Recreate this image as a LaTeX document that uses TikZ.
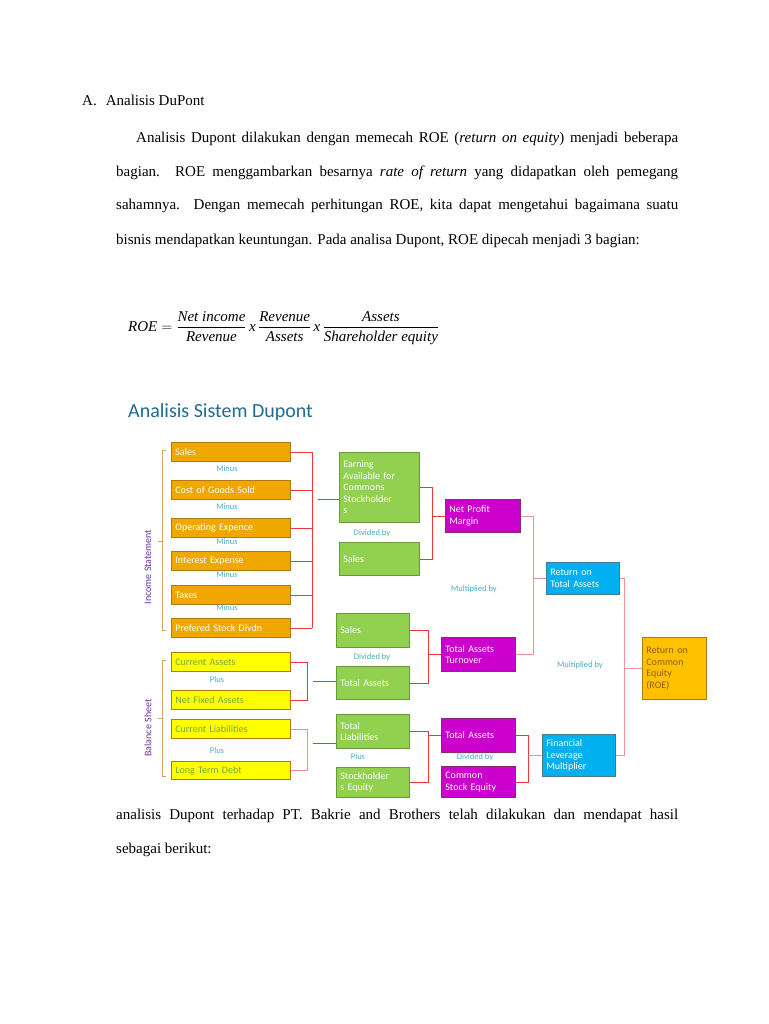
\documentclass[tikz,border=0pt]{standalone}
\usepackage{amsmath}
\usepackage{fontspec}
\setmainfont{Liberation Serif}
\newfontfamily\calfont{Carlito}
\definecolor{org}{HTML}{F0A800}
\definecolor{orgb}{HTML}{B07A10}
\definecolor{grn}{HTML}{92D050}
\definecolor{grnb}{HTML}{6A9A38}
\definecolor{mag}{HTML}{CC00CC}
\definecolor{magb}{HTML}{8A2A6A}
\definecolor{blu}{HTML}{00B0F0}
\definecolor{blub}{HTML}{4A7A8A}
\definecolor{yel}{HTML}{FFFF00}
\definecolor{roe}{HTML}{FFC000}
\definecolor{lbl}{HTML}{4BACC6}
\definecolor{pur}{HTML}{7030A0}
\definecolor{brk}{HTML}{D0A860}
\definecolor{ttl}{HTML}{1F6C90}
\definecolor{rln}{HTML}{E8383C}
\tikzset{
 bx/.style={draw=orgb,line width=0.8pt,inner xsep=4pt,inner ysep=1pt,align=left,font=\calfont\fontsize{10}{11.5}\selectfont,text=white,anchor=north west},
 ob/.style={bx,fill=org},
 gb/.style={bx,fill=grn,draw=grnb},
 mb/.style={bx,fill=mag,draw=magb},
 bb/.style={bx,fill=blu,draw=blub},
 yb/.style={bx,fill=yel,draw=orgb,text=grn!80!black},
 rb/.style={bx,fill=roe,draw=orgb,text=orgb!80!black},
 lab/.style={font=\calfont\fontsize{8.5}{9}\selectfont,text=lbl},
 rl/.style={draw=rln,line width=0.8pt},
 pl/.style={draw=rln!55,line width=0.6pt},
 br/.style={draw=brk,line width=0.8pt},
 body/.style={anchor=base west,inner sep=0pt,font=\fontsize{15}{18}\selectfont},
}
\newcommand\bxx[7]{\pgfmathsetmacro\ww{#4-#2}\pgfmathsetmacro\hh{#5-#3}\pgfmathsetmacro\tw{#4-#2-8}%
 \node[#6,minimum width=\ww pt,minimum height=\hh pt,text width=\tw pt] (#1) at (#2,#3) {#7};}
\begin{document}
\begin{tikzpicture}[x=1pt,y=-1pt]
\useasboundingbox (0,0) rectangle (768,1024);
\fill[white] (0,0) rectangle (768,1024);
% text
\node[body] (h) at (82,106) {A.\hspace{0.6em}Analisis DuPont};
\node[body] (p1) at (136,143) {\makebox[542pt][s]{Analisis Dupont dilakukan dengan memecah ROE (\textit{return on equity}) menjadi beberapa}};
\node[body] (p2) at (116,177) {\makebox[562pt][s]{bagian. ROE menggambarkan besarnya \textit{rate of return} yang didapatkan oleh pemegang}};
\node[body] (p3) at (116,210) {\makebox[562pt][s]{sahamnya. Dengan memecah perhitungan ROE, kita dapat mengetahui bagaimana suatu}};
\node[body] (p4) at (116,244) {bisnis mendapatkan keuntungan. Pada analisa Dupont, ROE dipecah menjadi 3 bagian:};
\node[anchor=west,inner sep=0pt,font=\fontsize{15}{18}\selectfont] (eq) at (128,328)
 {$\textit{ROE}=\dfrac{\textit{Net income}}{\textit{Revenue}}\,\textit{x}\,\dfrac{\textit{Revenue}}{\textit{Assets}}\,\textit{x}\,\dfrac{\textit{Assets}}{\textit{Shareholder equity}}$};
\node[body] (b1) at (116,819) {\makebox[562pt][s]{analisis Dupont terhadap PT. Bakrie and Brothers telah dilakukan dan mendapat hasil}};
\node[body] (b2) at (116,853) {sebagai berikut:};
% title
\node[anchor=base west,inner sep=0pt,font=\calfont\fontsize{20}{22}\selectfont,text=ttl] (t) at (128,417) {Analisis Sistem Dupont};
% orange boxes
\bxx{s1}{171}{442}{290}{461}{ob}{Sales}
\bxx{s2}{171}{480}{290}{499}{ob}{Cost of Goods Sold}
\bxx{s3}{171}{518}{290}{537}{ob}{Operating Expence}
\bxx{s4}{171}{551}{290}{570}{ob}{Interest Expense}
\bxx{s5}{171}{585}{290}{604}{ob}{Taxes}
\bxx{s6}{171}{618}{290}{637}{ob}{Prefered Stock Divdn}
\foreach \y in {469,507,542,575,608} \node[lab] at (227,\y) {Minus};
% yellow boxes
\bxx{y1}{171}{652}{290}{671}{yb}{Current Assets}
\bxx{y2}{171}{690}{290}{709}{yb}{Net Fixed Assets}
\bxx{y3}{171}{719}{290}{738}{yb}{Current Liabilities}
\bxx{y4}{171}{761}{290}{779}{yb}{Long Term Debt}
\node[lab] at (217,680) {Plus};
\node[lab] at (217,751) {Plus};
% brackets
\draw[br] (166,450) -- (162,450) -- (162,630) -- (166,630);
\draw[br] (162,541) -- (158,541);
\node[rotate=90,font=\calfont\fontsize{10}{11}\selectfont,text=pur] (is) at (148,567) {Income Statement};
\draw[br] (166,660) -- (162,660) -- (162,776) -- (166,776);
\draw[br] (162,718) -- (158,718);
\node[rotate=90,font=\calfont\fontsize{10}{11}\selectfont,text=pur] (bs) at (148,728) {Balance Sheet};
% green
\bxx{earn}{339}{452}{419}{522}{gb}{Earning\\Available for\\Commons\\Stockholder\\s}
\node[lab] at (372,533) {Divided by};
\bxx{gs1}{339}{542}{419}{575}{gb}{Sales}
\bxx{gs2}{336}{613}{409}{647}{gb}{Sales}
\node[lab] at (372,657) {Divided by};
\bxx{gta}{336}{666}{409}{699}{gb}{Total Assets}
\bxx{gtl}{336}{714}{409}{748}{gb}{Total\\Liabilities}
\node[lab] at (358,757) {Plus};
\bxx{gse}{336}{767}{409}{797}{gb}{Stockholder\\s Equity}
% magenta
\bxx{npm}{445}{499}{520}{532}{mb}{Net Profit\\Margin}
\bxx{tat}{441}{637}{515}{671}{mb}{Total Assets\\Turnover}
\bxx{mta}{441}{718}{515}{752}{mb}{Total Assets}
\node[lab] at (475,757) {Divided by};
\bxx{cse}{441}{766}{515}{797}{mb}{Common\\Stock Equity}
% blue / roe
\bxx{rota}{546}{562}{619}{594}{bb}{Return on\\Total Assets}
\bxx{flm}{542}{734}{615}{776}{bb}{Financial\\Leverage\\Multiplier}
\bxx{roe}{642}{637}{706}{699}{rb}{Return on\\Common\\Equity\\(ROE)}
\node[lab] at (474,589) {Multiplied by};
\node[lab] at (580,665) {Multiplied by};
% connectors
\coordinate (j1) at (312,0);
\foreach \n in {s1,s2,s3,s4,s5,s6} \draw[rl] (\n.east) -- (\n.east -| j1);
\draw[rl] (s1.east -| j1) -- (s6.east -| j1);
\coordinate (k1) at (318,499);
\draw[rl] (k1) -- (k1 -| earn.west);
\coordinate (j2) at (307,0);
\draw[rl] (y1.east) -- (y1.east -| j2) -- (y2.east -| j2) -- (y2.east);
\coordinate (k2) at (313,681);
\draw[rl] (k2) -- (k2 -| gta.west);
\draw[pl] (y3.east) -- (y3.east -| j2) -- (y4.east -| j2) -- (y4.east);
\coordinate (k3) at (313,743);
\draw[rl] (k3) -- (k3 -| gtl.west);
\coordinate (j3) at (432,0);
\draw[rl] (earn.east) -- (earn.east -| j3) -- (gs1.east -| j3) -- (gs1.east);
\draw[rl] (npm.west -| j3) -- (npm.west);
\coordinate (j4) at (428,0);
\draw[rl] (gs2.east) -- (gs2.east -| j4) -- (gta.east -| j4) -- (gta.east);
\draw[rl] (tat.west -| j4) -- (tat.west);
\draw[rl] (gtl.east) -- (gtl.east -| j4) -- (gse.east -| j4) -- (gse.east);
\draw[rl] (mta.west -| j4) -- (mta.west);
\coordinate (j5) at (533,0);
\draw[pl] (npm.east) -- (npm.east -| j5) -- (tat.east -| j5) -- (tat.east);
\draw[pl] (rota.west -| j5) -- (rota.west);
\coordinate (j6) at (528,0);
\draw[rl] (mta.east) -- (mta.east -| j6) -- (cse.east -| j6) -- (cse.east);
\draw[pl] (flm.west -| j6) -- (flm.west);
\coordinate (j7) at (624,0);
\draw[pl] (rota.east) -- (rota.east -| j7) -- (flm.east -| j7) -- (flm.east);
\draw[pl] (roe.west -| j7) -- (roe.west);
\end{tikzpicture}
\end{document}
